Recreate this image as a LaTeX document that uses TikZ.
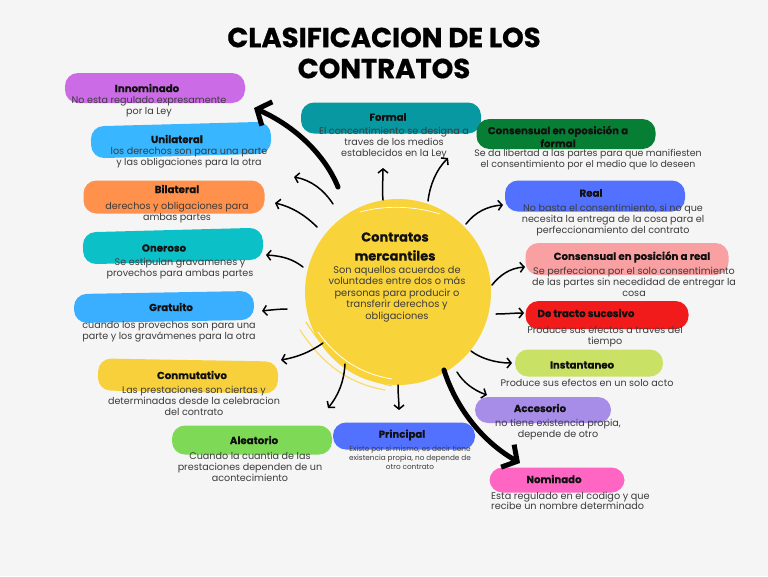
\documentclass[tikz,border=0pt]{standalone}
\usepackage{fontspec}
\setmainfont{Poppins}
\newfontfamily\heavyfont{Poppins}[BoldFeatures={FakeBold=0.7}]
\newfontfamily\semiheavy{Poppins}[BoldFeatures={FakeBold=0.35}]
\usetikzlibrary{arrows.meta}
\definecolor{bgc}{HTML}{F5F5F5}
\definecolor{hdc}{HTML}{111111}
\definecolor{txc}{HTML}{3C3C3C}
\definecolor{cinn}{HTML}{CB6CE6}
\definecolor{cuni}{HTML}{38B6FF}
\definecolor{cbil}{HTML}{FF914D}
\definecolor{cone}{HTML}{0CC0C8}
\definecolor{cgra}{HTML}{3AAFFF}
\definecolor{ccon}{HTML}{F8D03C}
\definecolor{cale}{HTML}{7ED957}
\definecolor{cpri}{HTML}{5271FF}
\definecolor{cfor}{HTML}{0898A2}
\definecolor{ccf}{HTML}{067F35}
\definecolor{crea}{HTML}{5271FF}
\definecolor{ccr}{HTML}{F9A0A2}
\definecolor{ctra}{HTML}{F21B1B}
\definecolor{cins}{HTML}{C9E265}
\definecolor{cacc}{HTML}{A78DE8}
\definecolor{cnom}{HTML}{FF66C4}
\definecolor{ccir}{HTML}{F8D33A}
\definecolor{ccirl}{HTML}{F9DC6A}
\begin{document}
\begin{tikzpicture}[x=1pt,y=-1pt,
  blob/.style={rectangle, rounded corners=13pt, inner sep=0pt},
  hd/.style={font=\semiheavy\fontsize{10.2}{13}\selectfont\bfseries, text=hdc, inner sep=0pt, align=center},
  tx/.style={font=\fontsize{9.6}{11}\selectfont, text=txc, align=center, inner sep=0pt},
  arr/.style={draw=black, line width=1.5pt, line cap=round, -{Straight Barb[length=4pt,width=10pt]}},
  bigarr/.style={draw=black, line width=5pt, line cap=round, -{Straight Barb[length=11pt,width=26pt]}}]
\fill[bgc] (0,0) rectangle (768,576);
\useasboundingbox (0,0) rectangle (768,576);

% title
\node[font=\heavyfont\fontsize{27.5}{31}\selectfont\bfseries, align=center, inner sep=0pt] (title) at (384,53) {CLASIFICACION DE LOS\\CONTRATOS};

% blobs
\node[blob, fill=cinn, minimum width=180pt, minimum height=30pt] (b1) at (155,88) {};
\node[blob, fill=cuni, minimum width=180pt, minimum height=32pt, rotate=1.5] (b2) at (181,140) {};
\node[blob, fill=cbil, minimum width=181pt, minimum height=33pt] (b3) at (174,197) {};
\node[blob, fill=cone, minimum width=180pt, minimum height=32pt, rotate=1.5] (b4) at (173,246) {};
\node[blob, fill=cgra, minimum width=180pt, minimum height=29pt, rotate=1] (b5) at (164,307) {};
\node[blob, fill=ccon, minimum width=180pt, minimum height=32pt, rotate=-1] (b6) at (188,376) {};
\node[blob, fill=cale, minimum width=160pt, minimum height=29pt] (b7) at (252,440) {};
\node[blob, fill=cpri, minimum width=142pt, minimum height=27pt] (b8) at (404,436) {};
\node[blob, fill=cfor, minimum width=180pt, minimum height=31pt] (b9) at (391,118) {};
\node[blob, fill=ccf, minimum width=179pt, minimum height=30pt] (b10) at (566,134) {};
\node[blob, fill=crea, minimum width=180pt, minimum height=31pt] (b11) at (595,196) {};
\node[blob, fill=ccr, minimum width=203pt, minimum height=32pt] (b12) at (627,259) {};
\node[blob, fill=ctra, minimum width=163pt, minimum height=28pt] (b13) at (607,315) {};
\node[blob, fill=cins, minimum width=148pt, minimum height=27pt] (b14) at (589,363) {};
\node[blob, fill=cacc, minimum width=136pt, minimum height=26pt] (b15) at (543,410) {};
\node[blob, fill=cnom, minimum width=135pt, minimum height=25pt] (b16) at (557,480) {};

% centre circle
\node[circle, fill=ccir, minimum size=186pt, inner sep=0pt] (cm) at (398,292) {};
\draw[ccirl, line width=1.2pt, line cap=round] (300,330) .. controls (325,368) and (352,384) .. (385,390);
\draw[ccir, line width=1pt, line cap=round] (306,322) .. controls (330,360) and (356,378) .. (392,386);
\draw[white, line width=0.8pt, line cap=round] (318,332) .. controls (338,360) and (362,374) .. (392,379);
\draw[white, line width=0.7pt, line cap=round] (360,212) .. controls (385,205) and (415,206) .. (440,214);

% headings
\node[hd] (h1) at (147,88) {Innominado};
\node[hd] (h2) at (177,139) {Unilateral};
\node[hd] (h3) at (177,189) {Bilateral};
\node[hd] (h4) at (164,248) {Oneroso};
\node[hd] (h5) at (171,307) {Gratuito};
\node[hd] (h6) at (192,375) {Conmutativo};
\node[hd] (h7) at (254,440) {Aleatorio};
\node[hd] (h8) at (402,435) {Principal};
\node[hd] (h9) at (388,117) {Formal};
\node[hd] (h10) at (558,136.5) {Consensual en oposición a\\formal};
\node[hd] (h11) at (591,193) {Real};
\node[hd] (h12) at (632,257) {Consensual en posición a real};
\node[hd] (h13) at (586,313) {De tracto sucesivo};
\node[hd] (h14) at (582,365) {Instantaneo};
\node[hd] (h15) at (540,408) {Accesorio};
\node[hd] (h16) at (554,479) {Nominado};
\node[hd, font=\semiheavy\fontsize{13}{19}\selectfont\bfseries] (hc) at (395,246.5) {Contratos\\mercantiles};

% descriptions
\node[tx] (t1) at (149,106.5) {No esta regulado expresamente\\por la Ley};
\node[tx] (t2) at (189,157.5) {los derechos son para una parte\\y las obligaciones para la otra};
\node[tx] (t3) at (177,213) {derechos y obligaciones para\\ambas partes};
\node[tx] (t4) at (180,268.5) {Se estipulan gravamenes y\\provechos para ambas partes};
\node[tx] (t5) at (169,331.5) {cuando los provechos son para una\\parte y los gravámenes para la otra};
\node[tx] (t6) at (194,401) {Las prestaciones son ciertas y\\determinadas desde la celebracion\\del contrato};
\node[tx] (t7) at (250,467) {Cuando la cuantia de las\\prestaciones dependen de un\\acontecimiento};
\node[tx, font=\fontsize{7.3}{9}\selectfont] (t8) at (410,458) {Existe por si mismo, es decir tiene\\existencia propia, no depende de\\otro contrato};
\node[tx] (t9) at (394,143) {El concentimiento se designa a\\traves de los medios\\establecidos en la Ley};
\node[tx, font=\fontsize{9.4}{11}\selectfont] (t10) at (588,159.5) {Se da libertad a las partes para que manifiesten\\el consentimiento por el medio que lo deseen};
\node[tx] (t11) at (613,220) {No basta el consentimiento, si no que\\necesita la entrega de la cosa para el\\perfeccionamiento del contrato};
\node[tx] (t12) at (634,282) {Se perfecciona por el solo consentimiento\\de las partes sin necedidad de entregar la\\cosa};
\node[tx] (t13) at (605,337) {Produce sus efectos a traves del\\tiempo};
\node[tx] (t14) at (587,383) {Produce sus efectos en un solo acto};
\node[tx] (t15) at (558,430) {no tiene existencia propia,\\depende de otro};
\node[tx, align=left, anchor=west, font=\fontsize{9.7}{10.5}\selectfont] (t16) at (491,501) {Esta regulado en el codigo y que\\recibe un nombre determinado};
\node[tx, font=\fontsize{9.8}{11.5}\selectfont] (tc) at (397,294) {Son aquellos acuerdos de\\voluntades entre dos o más\\personas para producir o\\transferir derechos y\\obligaciones};

% arrow ends
\coordinate (s1) at (338,187);  \coordinate (e1) at (254,108);
\coordinate (s2) at (333,204);  \coordinate (e2) at (294,177);
\coordinate (s3) at (317,227);  \coordinate (e3) at (275,203);
\coordinate (s4) at (383,200);  \coordinate (e4) at (383,168);
\coordinate (s5) at (428,201);  \coordinate (e5) at (448,158);
\coordinate (s6) at (466,224);  \coordinate (e6) at (503,205);
\coordinate (s7) at (303,267);  \coordinate (e7) at (266,255);
\coordinate (s8) at (287,309);  \coordinate (e8) at (262,311);
\coordinate (s9) at (492,285);  \coordinate (e9) at (525,267);
\coordinate (s10) at (496,314); \coordinate (e10) at (524,313);
\coordinate (s11) at (323,343); \coordinate (e11) at (281,360);
\coordinate (s12) at (345,364); \coordinate (e12) at (328,408);
\coordinate (s13) at (398,385); \coordinate (e13) at (399,410);
\coordinate (s14) at (457,372); \coordinate (e14) at (487,395);
\coordinate (s15) at (471,351); \coordinate (e15) at (512,363);
\coordinate (s16) at (444,370); \coordinate (e16) at (520,463);

\draw[bigarr] (s1) .. controls (325,155) and (295,126) .. (e1);
\draw[arr] (s2) .. controls (324,190) and (311,180) .. (e2);
\draw[arr] (s3) .. controls (305,215) and (292,207) .. (e3);
\draw[arr] (s4) .. controls (382,190) and (383,180) .. (e4);
\draw[arr] (s5) .. controls (430,185) and (436,170) .. (e5);
\draw[arr] (s6) .. controls (475,212) and (488,206) .. (e6);
\draw[arr] (s7) .. controls (294,260) and (284,256) .. (e7);
\draw[arr] (s8) .. controls (280,309) and (270,310) .. (e8);
\draw[arr] (s9) .. controls (500,275) and (510,268) .. (e9);
\draw[arr] (s10) .. controls (505,314) and (515,313) .. (e10);
\draw[arr] (s11) .. controls (310,352) and (298,357) .. (e11);
\draw[arr] (s12) .. controls (344,382) and (338,396) .. (e12);
\draw[arr] (s13) .. controls (398,395) and (399,402) .. (e13);
\draw[arr] (s14) .. controls (463,382) and (473,390) .. (e14);
\draw[arr] (s15) .. controls (480,358) and (495,363) .. (e15);
\draw[bigarr] (s16) .. controls (455,405) and (480,440) .. (e16);
\end{tikzpicture}
\end{document}
